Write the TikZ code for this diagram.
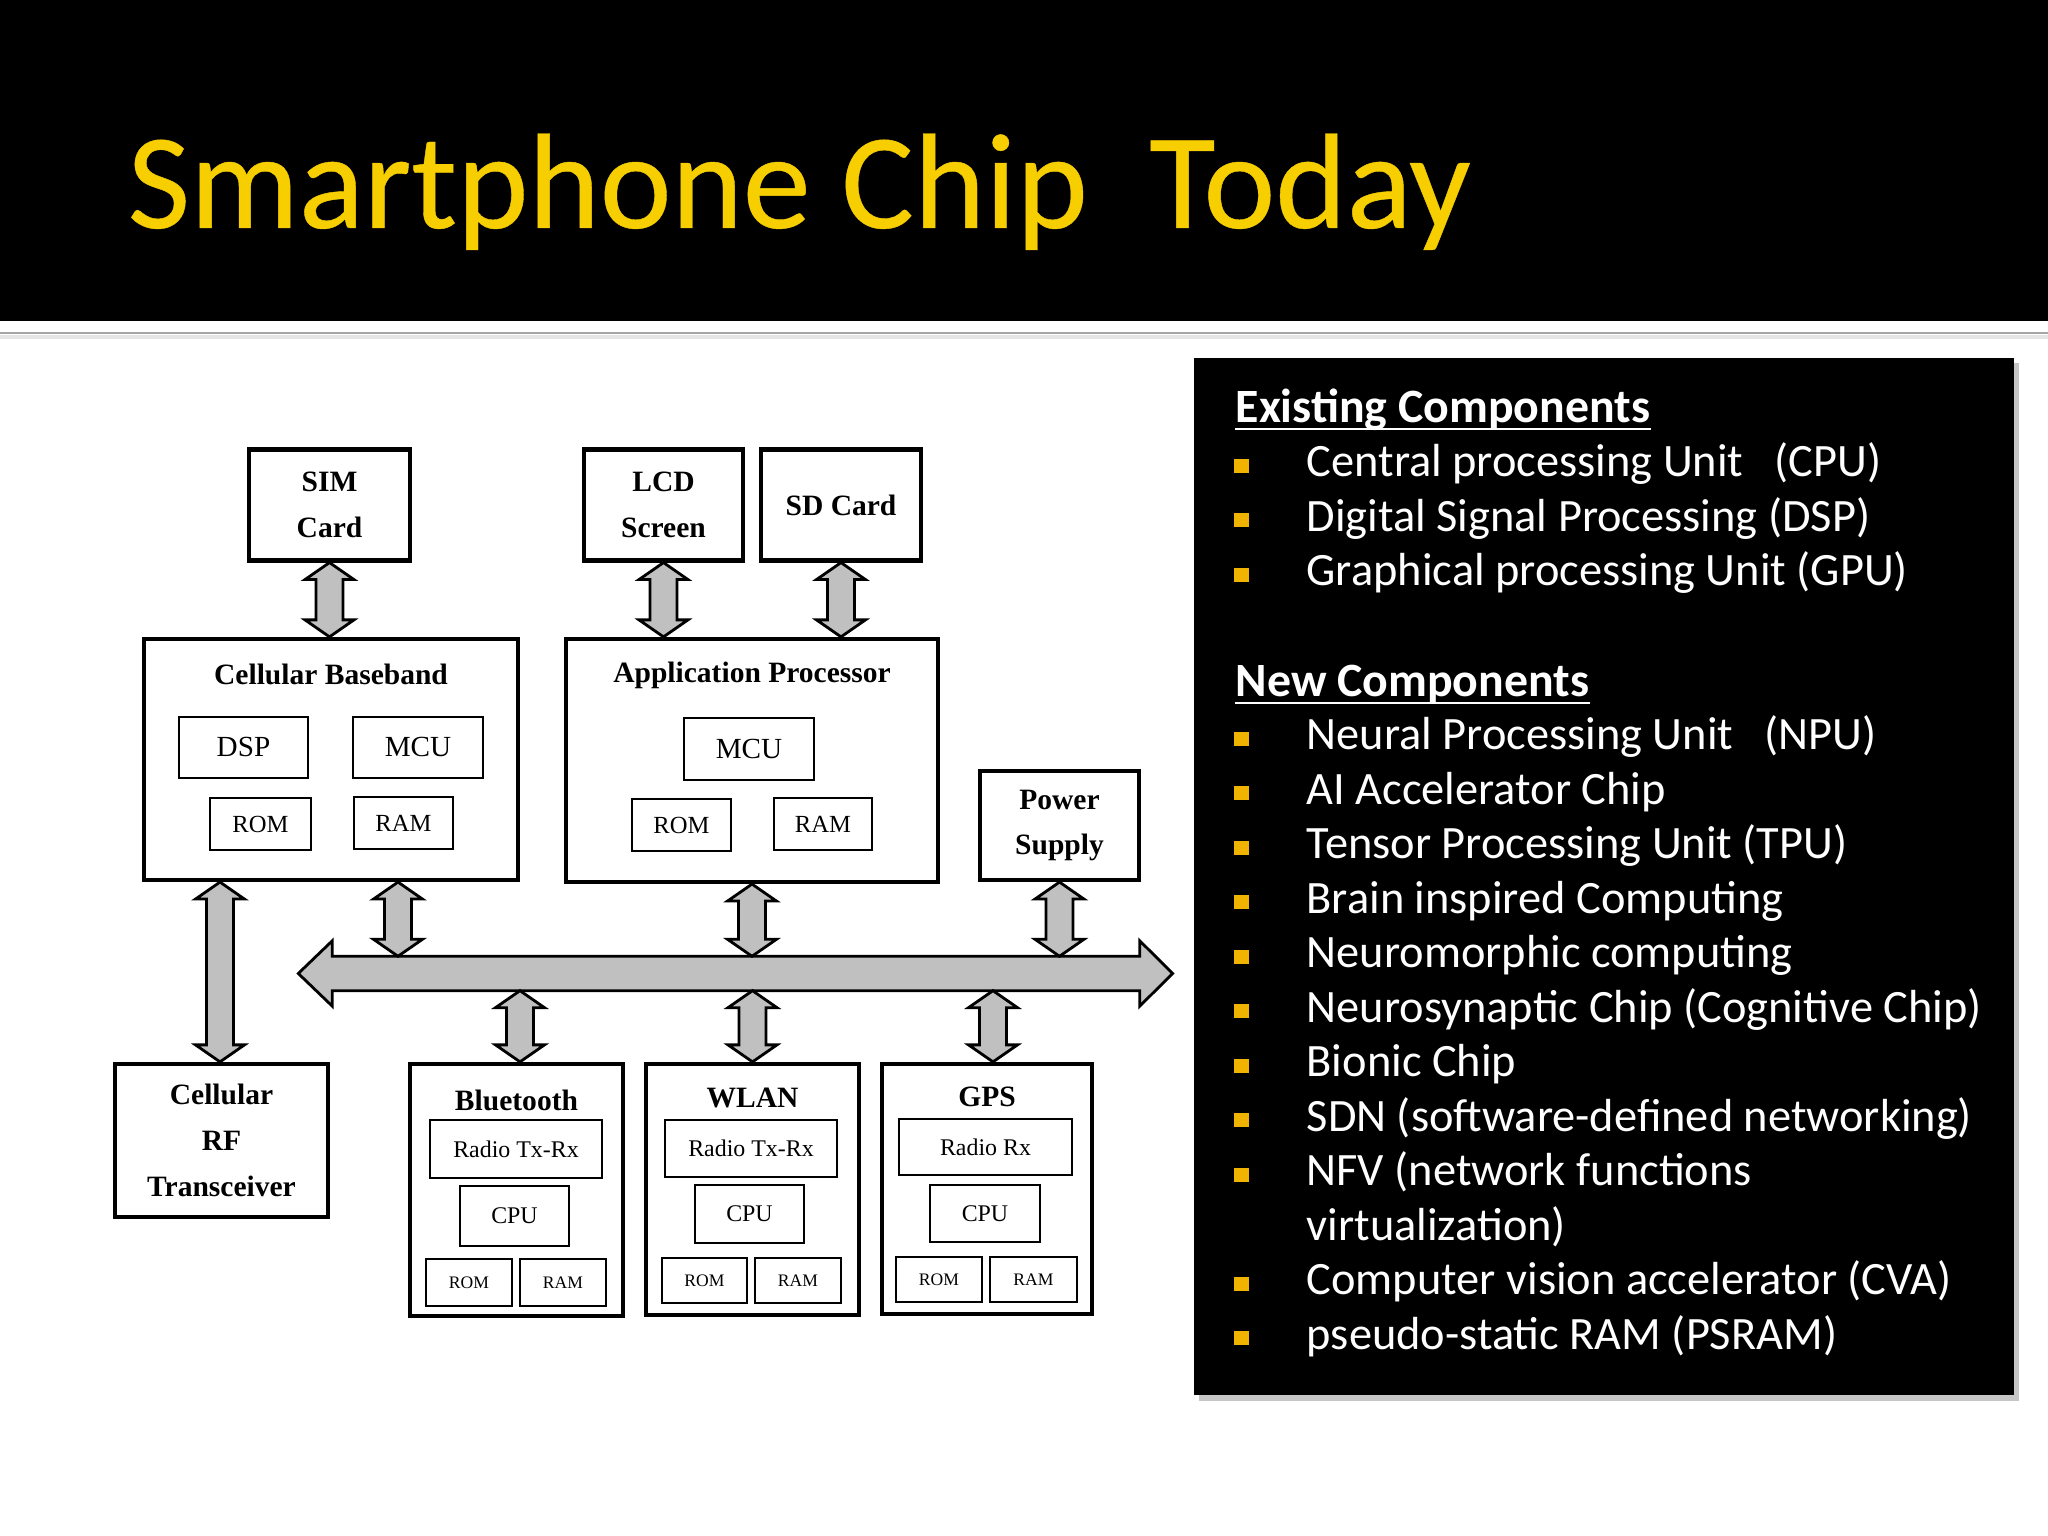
\documentclass[tikz,border=0pt]{standalone}
\usepackage{fontspec}
\setmainfont{Liberation Serif}
\newfontfamily\slidefont{Carlito}
\newfontfamily\titlefont[FakeBold=0.3]{Carlito}
\usetikzlibrary{calc,positioning}
\definecolor{titleyellow}{HTML}{F7CF00}
\definecolor{bulletgold}{HTML}{F0B400}
\definecolor{linkgrey}{HTML}{C0C0C0}
\definecolor{rulegrey}{HTML}{A6A6A6}
\tikzset{
  outer/.style={draw=black, line width=1.2pt, fill=white, inner sep=0pt, align=center,
    font=\fontsize{8.4}{13}\selectfont\bfseries},
  ttl/.style={inner sep=0pt, font=\fontsize{8.4}{10}\selectfont\bfseries},
  part/.style={draw=black, line width=0.7pt, fill=white, inner sep=0pt, align=center},
  partbig/.style={part, font=\fontsize{8.3}{10}\selectfont},
  partmid/.style={part, font=\fontsize{7}{9}\selectfont},
  partradio/.style={part, font=\fontsize{6.8}{8}\selectfont},
  parttiny/.style={part, font=\fontsize{5}{6}\selectfont},
  link/.style={draw=black, line width=0.8pt, fill=linkgrey, line join=miter},
  headline/.style={inner sep=0pt, text=white, font=\slidefont\fontsize{13.6}{15}\selectfont\bfseries},
  item/.style={inner sep=0pt, text=white, text height=0.32cm, text depth=0.1cm,
    font=\slidefont\fontsize{13.2}{15}\selectfont},
  bulitem/.style={item, label={[bulsq, label distance=0.56cm]left:{}}},
  bulsq/.style={fill=bulletgold, inner sep=0pt, minimum width=0.15cm, minimum height=0.14cm},
}
% vertical block arrow: [x offset]{upper tip}{lower tip}
\newcommand{\vlink}[3][0cm]{%
  \draw[link] let \p1=(#2), \p2=(#3), \n1={\x1+#1} in
    (\n1,\y1) -- ({\n1+0.245cm},{\y1-0.17cm}) -- ({\n1+0.135cm},{\y1-0.17cm})
    -- ({\n1+0.135cm},{\y2+0.17cm}) -- ({\n1+0.245cm},{\y2+0.17cm}) -- (\n1,\y2)
    -- ({\n1-0.245cm},{\y2+0.17cm}) -- ({\n1-0.135cm},{\y2+0.17cm})
    -- ({\n1-0.135cm},{\y1-0.17cm}) -- ({\n1-0.245cm},{\y1-0.17cm}) -- cycle;}

\begin{document}
\begin{tikzpicture}
  \useasboundingbox (0,0) rectangle (20.48,15.36);
  \fill[white] (0,0) rectangle (20.48,15.36);

  % header
  \fill[black] (0,12.15) rectangle (20.48,15.36);
  \draw[gray!20, line width=1.2pt] (0,11.99) -- (20.48,11.99);
  \draw[rulegrey, line width=0.8pt] (0,12.03) -- (20.48,12.03);
  \node[anchor=base west, inner sep=0pt, text=titleyellow,
    font=\titlefont\fontsize{38.7}{45}\selectfont] (title) at (1.27,13.08) {Smartphone Chip\ \ Today};

  % diagram
  \node[outer, minimum width=1.61cm, minimum height=1.11cm] (sim) at (3.295,10.31) {SIM\\Card};
  \node[outer, minimum width=1.59cm, minimum height=1.11cm] (lcd) at (6.635,10.31) {LCD\\Screen};
  \node[outer, minimum width=1.60cm, minimum height=1.11cm] (sd) at (8.41,10.31) {SD Card};

  \node[outer, minimum width=3.74cm, minimum height=2.41cm] (cb) at (3.31,7.765) {};
  \node[ttl] (cbt) at (3.31,8.62) {Cellular Baseband};
  \node[partbig, minimum width=1.29cm, minimum height=0.61cm] (cbdsp) at (2.435,7.885) {DSP};
  \node[partbig, minimum width=1.30cm, minimum height=0.61cm] (cbmcu) at (4.18,7.885) {MCU};
  \node[partmid, minimum width=1.01cm, minimum height=0.52cm] (cbrom) at (2.605,7.12) {ROM};
  \node[partmid, minimum width=0.99cm, minimum height=0.52cm] (cbram) at (4.035,7.13) {RAM};

  \node[outer, minimum width=3.72cm, minimum height=2.43cm] (ap) at (7.52,7.755) {};
  \node[ttl] (apt) at (7.52,8.61) {Application Processor};
  \node[partbig, minimum width=1.30cm, minimum height=0.62cm] (apmcu) at (7.49,7.87) {MCU};
  \node[partmid, minimum width=0.99cm, minimum height=0.52cm] (aprom) at (6.815,7.11) {ROM};
  \node[partmid, minimum width=0.98cm, minimum height=0.52cm] (apram) at (8.23,7.12) {RAM};

  \node[outer, minimum width=1.59cm, minimum height=1.09cm] (ps) at (10.595,7.105) {Power\\Supply};

  \node[inner sep=0pt, minimum width=8.06cm, minimum height=0.33cm] (bus) at (7.36,5.625) {};
  \draw[link] (bus.north west) -- (bus.north east) -- ([yshift=0.155cm]bus.north east)
    -- ([xshift=0.33cm]bus.east) -- ([yshift=-0.155cm]bus.south east) -- (bus.south east)
    -- (bus.south west) -- ([yshift=-0.155cm]bus.south west) -- ([xshift=-0.34cm]bus.west)
    -- ([yshift=0.155cm]bus.north west) -- cycle;

  \node[outer, minimum width=2.13cm, minimum height=1.53cm] (rf) at (2.215,3.955) {Cellular\\RF\\Transceiver};

  \node[outer, minimum width=2.13cm, minimum height=2.52cm] (bt) at (5.165,3.46) {};
  \node[ttl] (btt) at (5.165,4.36) {Bluetooth};
  \node[partradio, minimum width=1.72cm, minimum height=0.58cm] (btradio) at (5.16,3.87) {Radio Tx-Rx};
  \node[partradio, minimum width=1.09cm, minimum height=0.60cm] (btcpu) at (5.145,3.20) {CPU};
  \node[parttiny, minimum width=0.86cm, minimum height=0.47cm] (btrom) at (4.69,2.535) {ROM};
  \node[parttiny, minimum width=0.86cm, minimum height=0.47cm] (btram) at (5.63,2.535) {RAM};

  \node[outer, minimum width=2.13cm, minimum height=2.51cm] (wlan) at (7.525,3.465) {};
  \node[ttl] (wlant) at (7.525,4.38) {WLAN};
  \node[partradio, minimum width=1.72cm, minimum height=0.57cm] (wlanradio) at (7.51,3.875) {Radio Tx-Rx};
  \node[partradio, minimum width=1.09cm, minimum height=0.58cm] (wlancpu) at (7.495,3.22) {CPU};
  \node[parttiny, minimum width=0.85cm, minimum height=0.45cm] (wlanrom) at (7.045,2.555) {ROM};
  \node[parttiny, minimum width=0.86cm, minimum height=0.45cm] (wlanram) at (7.98,2.555) {RAM};

  \node[outer, minimum width=2.10cm, minimum height=2.50cm] (gps) at (9.87,3.47) {};
  \node[ttl] (gpst) at (9.87,4.39) {GPS};
  \node[partradio, minimum width=1.73cm, minimum height=0.56cm] (gpsradio) at (9.855,3.89) {Radio Rx};
  \node[partradio, minimum width=1.10cm, minimum height=0.57cm] (gpscpu) at (9.85,3.225) {CPU};
  \node[parttiny, minimum width=0.86cm, minimum height=0.45cm] (gpsrom) at (9.39,2.565) {ROM};
  \node[parttiny, minimum width=0.87cm, minimum height=0.45cm] (gpsram) at (10.335,2.565) {RAM};

  \vlink{sim.south}{cb.north}
  \vlink{lcd.south}{ap.north}
  \vlink{sd.south}{ap.north}
  \vlink[0.67cm]{cb.south}{bus.north}
  \vlink{ap.south}{bus.north}
  \vlink{ps.south}{bus.north}
  \vlink[-1.11cm]{cb.south}{rf.north}
  \vlink[0.035cm]{bus.south -| bt.north}{bt.north}
  \vlink{bus.south -| wlan.north}{wlan.north}
  \vlink[0.06cm]{bus.south -| gps.north}{gps.north}

  % right panel
  \fill[gray!45] (11.99,1.35) rectangle (20.19,11.73);
  \fill[black] (11.94,1.41) rectangle (20.14,11.78);

  \node[headline, anchor=base west] (exist) at (12.35,11.13) {Existing Components};
  \draw[white, line width=0.6pt] ([yshift=-0.06cm]exist.base west) -- ([yshift=-0.06cm]exist.base east);
  \node[bulitem, anchor=base west] (cpu) at (13.06,10.59) {Central processing Unit\hspace{0.45em} (CPU)};
  \node[bulitem, anchor=base west] (dsp) at (13.06,10.045) {Digital Signal Processing (DSP)};
  \node[bulitem, anchor=base west] (gpu) at (13.06,9.50) {Graphical processing Unit (GPU)};

  \node[headline, anchor=base west] (new) at (12.35,8.39) {New Components};
  \draw[white, line width=0.6pt] ([yshift=-0.06cm]new.base west) -- ([yshift=-0.06cm]new.base east);
  \node[bulitem, anchor=base west] (npu) at (13.06,7.86) {Neural Processing Unit\hspace{0.45em} (NPU)};
  \node[bulitem, anchor=base west] (aichip) at (13.06,7.315) {AI Accelerator Chip};
  \node[bulitem, anchor=base west] (tpu) at (13.06,6.77) {Tensor Processing Unit (TPU)};
  \node[bulitem, anchor=base west] (brain) at (13.06,6.225) {Brain inspired Computing};
  \node[bulitem, anchor=base west] (neuro) at (13.06,5.68) {Neuromorphic computing};
  \node[bulitem, anchor=base west] (synapse) at (13.06,5.135) {Neurosynaptic Chip (Cognitive Chip)};
  \node[bulitem, anchor=base west] (bionic) at (13.06,4.59) {Bionic Chip};
  \node[bulitem, anchor=base west] (sdn) at (13.06,4.045) {SDN (software-defined networking)};
  \node[bulitem, anchor=base west] (nfv) at (13.06,3.50) {NFV (network functions};
  \node[item, anchor=base west] (nfv2) at (13.06,2.955) {virtualization)};
  \node[bulitem, anchor=base west] (cva) at (13.06,2.41) {Computer vision accelerator (CVA)};
  \node[bulitem, anchor=base west] (psram) at (13.06,1.865) {pseudo-static RAM (PSRAM)};
\end{tikzpicture}
\end{document}
